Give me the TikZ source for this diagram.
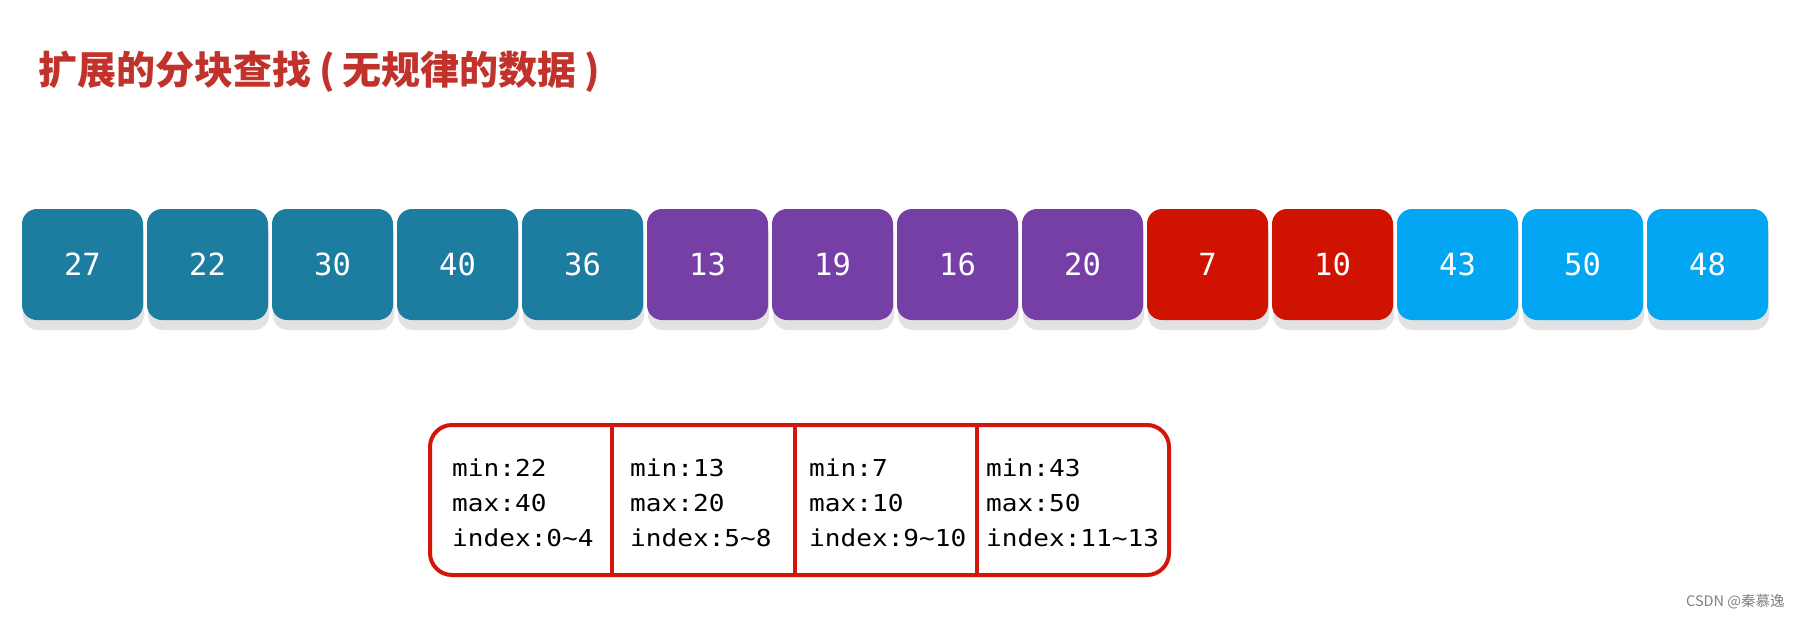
\documentclass[tikz,border=0pt]{standalone}
\usepackage{fontspec}
\usetikzlibrary{shadows}
\newfontfamily\cjk{Noto Sans CJK SC}
\newfontfamily\monoA{DejaVu Sans Mono}
\newfontfamily\monoB[FakeStretch=1.12]{DejaVu Sans Mono}
\definecolor{cteal}{HTML}{1C7DA1}
\definecolor{cpurple}{HTML}{763FA6}
\definecolor{cred}{HTML}{D01300}
\definecolor{cblue}{HTML}{02A6F2}
\definecolor{ctitle}{HTML}{C1322B}
\definecolor{cframe}{HTML}{D2160C}
\definecolor{cshadow}{HTML}{E2E2E2}
\tikzset{
  numbox/.style={minimum width=121pt, minimum height=111pt, inner sep=0pt,
    rounded corners=15pt, text=white,
    font=\monoA\fontsize{30.5}{36}\selectfont,
    drop shadow={shadow xshift=1pt, shadow yshift=-10pt, fill=cshadow, opacity=1}},
  cellline/.style={anchor=base west, inner sep=0pt,
    font=\monoB\fontsize{23.3}{35}\selectfont, text=black},
}
\begin{document}
\begin{tikzpicture}[x=1pt,y=-1pt]
\fill[white] (0,0) rectangle (1801,616);
\useasboundingbox (0,0) rectangle (1801,616);
% title
\node[anchor=base west, inner sep=0pt, text=ctitle,
  font=\cjk\bfseries\fontsize{39}{44}\selectfont] (title) at (38,84)
  {扩展的分块查找\hspace{8pt}(\hspace{8pt}无规律的数据\hspace{8pt})};
% number boxes
\foreach \v/\c [count=\i from 0] in {27/cteal,22/cteal,30/cteal,40/cteal,36/cteal,
  13/cpurple,19/cpurple,16/cpurple,20/cpurple,7/cred,10/cred,43/cblue,50/cblue,48/cblue}{
  \node[numbox, fill=\c] (b\i) at ({82.5+125*\i},264.5) {\v};
}
% index table
\node[draw=cframe, line width=4pt, rounded corners=22pt, minimum width=739pt,
  minimum height=150pt, inner sep=0pt] (tbl) at (799.5,500) {};
\foreach \x [count=\k] in {612,795,977}{
  \coordinate (d\k) at (\x,500);
  \draw[cframe, line width=4pt] (d\k |- tbl.north) -- (d\k |- tbl.south);
}
\foreach \x/\a/\b/\cc [count=\k] in {452/22/40/0\textasciitilde 4,630/13/20/5\textasciitilde 8,
  809/7/10/9\textasciitilde 10,986/43/50/11\textasciitilde 13}{
  \node[cellline] (mn\k) at (\x,476) {min:\a};
  \node[cellline] (mx\k) at (\x,511) {max:\b};
  \node[cellline] (ix\k) at (\x,546) {index:\cc};
}
% watermark
\node[anchor=base west, inner sep=0pt, text=black!50,
  font=\cjk\fontsize{14.5}{17}\selectfont] (wm) at (1686,606) {CSDN @秦慕逸};
\end{tikzpicture}
\end{document}
